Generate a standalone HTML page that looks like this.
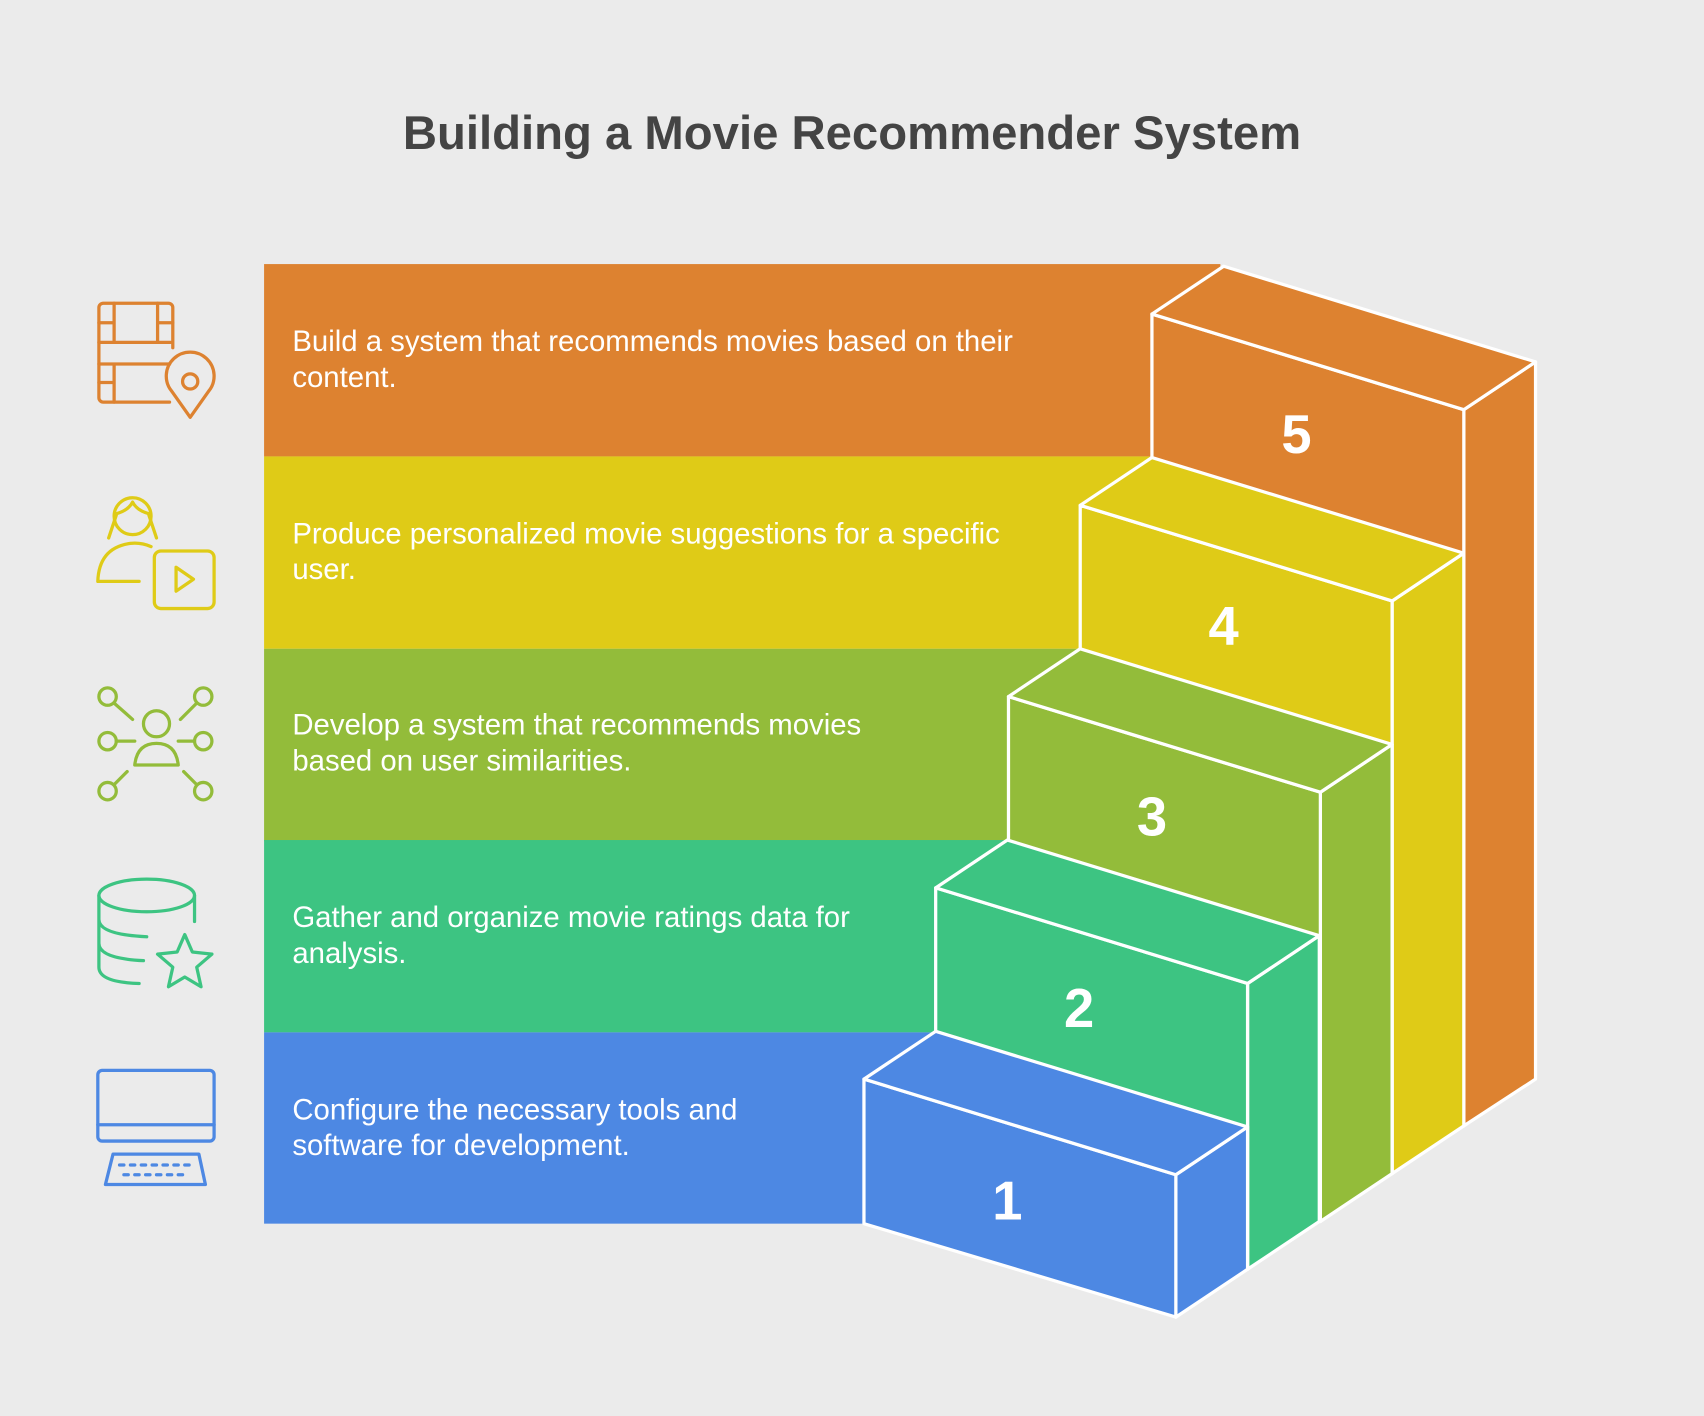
<!DOCTYPE html>
<html><head><meta charset="utf-8"><style>
html,body{margin:0;padding:0;background:#ebebeb;}
svg{display:block;}
text{font-family:"Liberation Sans",sans-serif;}
</style></head><body>
<svg width="1704" height="1416" viewBox="0 0 1568 1303" xmlns="http://www.w3.org/2000/svg">
<rect width="1568" height="1303" fill="#ebebeb"/>
<text x="784" y="137" text-anchor="middle" font-size="43.5" font-weight="bold" fill="#444">Building a Movie Recommender System</text>

<!-- bands -->
<rect x="243" y="243" width="880" height="177" fill="#dd8230"/>
<rect x="243" y="420" width="840" height="177" fill="#dfcb17"/>
<rect x="243" y="597" width="760" height="177" fill="#93bc3a"/>
<rect x="243" y="773" width="700" height="177" fill="#3dc482"/>
<rect x="243" y="950" width="620" height="176" fill="#4d88e3"/>

<g stroke="#fff" stroke-width="3" stroke-linejoin="round">
<polygon fill="#dd8230" points="1347,377 1413,333 1413,993 1347,1036"/>
<polygon fill="#dd8230" points="1060,289 1347,377 1347,1036 1060,950"/>
<polygon fill="#dd8230" points="1060,289 1126,245 1413,333 1347,377"/>
<polygon fill="#dfcb17" points="1281,553 1347,509 1347,1036 1281,1080"/>
<polygon fill="#dfcb17" points="994,465 1281,553 1281,1080 994,994"/>
<polygon fill="#dfcb17" points="994,465 1060,421 1347,509 1281,553"/>
<polygon fill="#93bc3a" points="1215,729 1281,685 1281,1080 1215,1124"/>
<polygon fill="#93bc3a" points="928,641 1215,729 1215,1124 928,1038"/>
<polygon fill="#93bc3a" points="928,641 994,597 1281,685 1215,729"/>
<polygon fill="#3dc482" points="1148,905 1214,861 1214,1124 1148,1168"/>
<polygon fill="#3dc482" points="861,817 1148,905 1148,1168 861,1082"/>
<polygon fill="#3dc482" points="861,817 927,773 1214,861 1148,905"/>
<polygon fill="#4d88e3" points="1082,1081 1148,1037 1148,1168 1082,1212"/>
<polygon fill="#4d88e3" points="795,993 1082,1081 1082,1212 795,1126"/>
<polygon fill="#4d88e3" points="795,993 861,949 1148,1037 1082,1081"/>
</g>

<g fill="#fff" font-size="50" font-weight="bold" text-anchor="middle">
<text x="1193" y="417">5</text>
<text x="1126" y="593">4</text>
<text x="1060" y="769">3</text>
<text x="993" y="945">2</text>
<text x="927" y="1122">1</text>
</g>

<g fill="#fff" font-size="27">
<text x="269" y="323">Build a system that recommends movies based on their</text>
<text x="269" y="356">content.</text>
<text x="269" y="500">Produce personalized movie suggestions for a specific</text>
<text x="269" y="533">user.</text>
<text x="269" y="676">Develop a system that recommends movies</text>
<text x="269" y="709">based on user similarities.</text>
<text x="269" y="853">Gather and organize movie ratings data for</text>
<text x="269" y="886">analysis.</text>
<text x="269" y="1030">Configure the necessary tools and</text>
<text x="269" y="1063">software for development.</text>
</g>

<g fill="none" stroke-width="3" stroke-linecap="round" stroke-linejoin="round">
<g stroke="#dd8230">
<path d="M159,320 V283 a4,4 0 0 0 -4,-4 H95 a4,4 0 0 0 -4,4 V366 a4,4 0 0 0 4,4 H156"/>
<path d="M91,315 H157 M91,335 H156 M105,279 V315 M145,279 V315 M91,297 H105 M145,297 H159 M105,335 V370 M91,352 H105"/>
<path d="M175,384 L158,360 A22,22 0 1 1 192,360 Z"/>
<circle cx="175" cy="351" r="7"/>
</g>
<g stroke="#dfcb17">
<circle cx="122" cy="475" r="17"/>
<path d="M106,473 Q118,470 122,462 Q126,470 138,473 M107,474 L100,495 M137,474 L144,495"/>
<path d="M139,503 Q130,499 120,500 Q91,504 90,535 H128"/>
<rect x="142" y="507" width="55" height="53" rx="6"/>
<path d="M162,522 L178,533 L162,544 Z"/>
</g>
<g stroke="#93bc3a">
<circle cx="144" cy="666" r="12"/>
<path d="M124,704 Q126,684 144,684 Q162,684 164,704 Z"/>
<circle cx="99" cy="641" r="8"/><circle cx="187" cy="641" r="8"/>
<circle cx="99" cy="682" r="8"/><circle cx="187" cy="682" r="8"/>
<circle cx="99" cy="728" r="8"/><circle cx="187" cy="728" r="8"/>
<path d="M105,647 L122,662 M181,647 L166,662 M107,682 H124 M179,682 H164 M105,722 L117,710 M181,722 L169,710"/>
</g>
<g stroke="#3dc482">
<ellipse cx="135" cy="824" rx="44" ry="15"/>
<path d="M91,824 V890 Q91,904 128,905 M179,824 V848 M91,846 Q91,860 135,862 M91,868 Q91,882 132,884"/>
<path d="M170,860 L177,876 L195,878 L181,890 L185,908 L170,899 L155,908 L159,890 L145,878 L163,876 Z"/>
</g>
<g stroke="#4d88e3">
<rect x="90" y="985" width="107" height="65" rx="4"/>
<path d="M90,1035 H197"/>
<path d="M104,1062 H183 L189,1090 H97 Z"/>
<path d="M110,1072 H176 M114,1081 H172" stroke-dasharray="4 6"/>
</g>
</g>
</svg>
</body></html>
